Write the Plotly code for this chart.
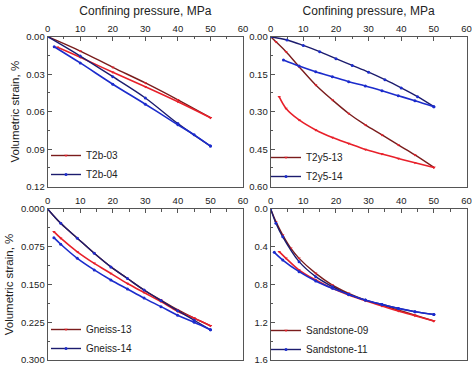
import plotly.graph_objects as go

# ---------------- data ----------------
# Panel A: T2b-03 (red), T2b-04 (blue)
t2b03_load_x = [0, 10, 20, 30, 40, 50]
t2b03_load_y = [0, 0.0115, 0.0245, 0.037, 0.0505, 0.0648]
t2b03_unl_x = [50, 40, 30, 20, 10, 3]
t2b03_unl_y = [0.0648, 0.052, 0.040, 0.0285, 0.0165, 0.0085]
t2b04_load_x = [0, 10, 20, 30, 40, 50]
t2b04_load_y = [0, 0.0155, 0.032, 0.049, 0.0695, 0.0875]
t2b04_unl_x = [50, 45, 40, 30, 20, 10, 2]
t2b04_unl_y = [0.0875, 0.0785, 0.0705, 0.054, 0.038, 0.021, 0.008]

# Panel B: T2y5-13 (red), T2y5-14 (blue)
t2y13_load_x = [0, 1.6, 4.7, 8.7, 13.8, 18.9, 23.9, 29, 34.1, 39.1, 44.2, 50]
t2y13_load_y = [0, 0.02, 0.06, 0.12, 0.193, 0.253, 0.307, 0.353, 0.393, 0.433, 0.473, 0.523]
t2y13_unl_x = [50, 44.2, 39.1, 34.1, 29, 23.9, 18.9, 13.8, 8.7, 4.7, 2.6]
t2y13_unl_y = [0.523, 0.504, 0.487, 0.469, 0.451, 0.427, 0.403, 0.373, 0.333, 0.287, 0.24]
t2y14_load_x = [0, 5, 10, 15, 20, 25, 30, 35, 40, 45, 50]
t2y14_load_y = [0, 0.013, 0.035, 0.06, 0.088, 0.115, 0.142, 0.172, 0.205, 0.24, 0.28]
t2y14_unl_x = [50, 44.2, 39.1, 34.1, 29, 23.9, 18.9, 13.8, 8.7, 3.9]
t2y14_unl_y = [0.28, 0.256, 0.236, 0.216, 0.197, 0.18, 0.16, 0.14, 0.117, 0.093]

# Panel C: Gneiss-13 (red), Gneiss-14 (blue)
gn_load_x = [0, 4, 9.1, 14.3, 19.4, 24.5, 29.6, 34.8, 39.9, 45, 50]
gn13_load_y = [0, 0.0285, 0.058, 0.088, 0.115, 0.138, 0.161, 0.181, 0.2, 0.217, 0.232]
gn14_load_y = [0, 0.0285, 0.058, 0.088, 0.115, 0.138, 0.161, 0.182, 0.202, 0.221, 0.24]
gn_unl_x = [50, 45, 39.9, 34.8, 29.6, 24.5, 19.4, 14.3, 9.1, 4, 1.9]
gn13_unl_y = [0.232, 0.217, 0.203, 0.184, 0.166, 0.148, 0.128, 0.108, 0.085, 0.058, 0.045]
gn14_unl_y = [0.24, 0.225, 0.211, 0.194, 0.177, 0.159, 0.141, 0.121, 0.098, 0.07, 0.057]

# Panel D: Sandstone-09 (red), Sandstone-11 (blue)
ss09_load_x = [0, 1.6, 3.7, 6.2, 8.7, 13.8, 18.9, 23.9, 29, 34.1, 39.1, 44.2, 50]
ss09_load_y = [0, 0.134, 0.276, 0.417, 0.523, 0.682, 0.806, 0.894, 0.965, 1.018, 1.071, 1.124, 1.187]
ss09_unl_x = [50, 44.2, 39.1, 34.1, 29, 23.9, 18.9, 13.8, 8.7, 4.7, 2.6]
ss09_unl_y = [1.187, 1.131, 1.081, 1.028, 0.972, 0.912, 0.841, 0.753, 0.647, 0.523, 0.452]
ss11_load_x = [0, 1.6, 3.7, 8.7, 13.8, 18.9, 23.9, 29, 34.1, 39.1, 44.2, 50]
ss11_load_y = [0, 0.15, 0.295, 0.558, 0.717, 0.823, 0.905, 0.965, 1.011, 1.053, 1.088, 1.117]
ss11_unl_x = [50, 44.2, 39.1, 34.1, 29, 23.9, 18.9, 13.8, 8.7, 3.7, 1.1]
ss11_unl_y = [1.117, 1.088, 1.053, 1.011, 0.965, 0.905, 0.841, 0.763, 0.664, 0.541, 0.459]

x_ticks = [0, 10, 20, 30, 40, 50, 60]
yA_ticks = [0.00, 0.03, 0.06, 0.09, 0.12]
yB_ticks = [0.00, 0.15, 0.30, 0.45, 0.60]
yC_ticks = [0.000, 0.075, 0.150, 0.225, 0.300]
yD_ticks = [0.0, 0.4, 0.8, 1.2, 1.6]

RED = "#e8202a"
RED_DARK = "#7a1c1c"
BLUE = "#1c2ccc"
BLUE_DARK = "#1c1c6e"

W, H = 474, 368
FONT = "Liberation Sans, Arial, sans-serif"

fig = go.Figure()


def add_pair(name, lx, ly, ux, uy, color, dark, symbol, xa, ya, legend):
    fig.add_trace(go.Scatter(
        x=lx, y=ly, name=name, mode="lines+markers",
        line=dict(color=dark, width=1.4, shape="spline", smoothing=1),
        marker=dict(color=color, size=3, symbol=symbol),
        xaxis=xa, yaxis=ya, legend=legend, legendgroup=name))
    fig.add_trace(go.Scatter(
        x=ux, y=uy, name=name, mode="lines+markers", showlegend=False,
        line=dict(color=color, width=1.6, shape="spline", smoothing=1),
        marker=dict(color=color, size=3, symbol=symbol),
        xaxis=xa, yaxis=ya, legend=legend, legendgroup=name))


add_pair("T2b-03", t2b03_load_x, t2b03_load_y, t2b03_unl_x, t2b03_unl_y, RED, RED_DARK, "triangle-down", "x", "y", "legend")
add_pair("T2b-04", t2b04_load_x, t2b04_load_y, t2b04_unl_x, t2b04_unl_y, BLUE, BLUE_DARK, "circle", "x", "y", "legend")
add_pair("T2y5-13", t2y13_load_x, t2y13_load_y, t2y13_unl_x, t2y13_unl_y, RED, RED_DARK, "triangle-down", "x2", "y2", "legend2")
add_pair("T2y5-14", t2y14_load_x, t2y14_load_y, t2y14_unl_x, t2y14_unl_y, BLUE, BLUE_DARK, "circle", "x2", "y2", "legend2")
add_pair("Gneiss-13", gn_load_x, gn13_load_y, gn_unl_x, gn13_unl_y, RED, RED_DARK, "triangle-down", "x3", "y3", "legend3")
add_pair("Gneiss-14", gn_load_x, gn14_load_y, gn_unl_x, gn14_unl_y, BLUE, BLUE_DARK, "circle", "x3", "y3", "legend3")
add_pair("Sandstone-09", ss09_load_x, ss09_load_y, ss09_unl_x, ss09_unl_y, RED, RED_DARK, "triangle-down", "x4", "y4", "legend4")
add_pair("Sandstone-11", ss11_load_x, ss11_load_y, ss11_unl_x, ss11_unl_y, BLUE, BLUE_DARK, "circle", "x4", "y4", "legend4")

LX = [47.7 / W, 243.0 / W]
RX = [270.7 / W, 466.5 / W]
TY = [1 - 186.7 / H, 1 - 36.7 / H]
BY = [1 - 360.0 / H, 1 - 209.0 / H]

common_x = dict(range=[0, 60], tickvals=x_ticks, side="top", ticks="inside", ticklen=4,
                minor=dict(dtick=5, ticks="inside", ticklen=2.5, tickcolor="#555"),
                showline=True, mirror=True, linecolor="#555", linewidth=1.2, tickcolor="#555",
                showgrid=False, zeroline=False, automargin=False,
                tickfont=dict(size=9.5, color="#222"))
common_y = dict(ticks="inside", ticklen=4, showline=True, mirror=True, linecolor="#555",
                linewidth=1.2, tickcolor="#555", showgrid=False, zeroline=False, automargin=False,
                tickfont=dict(size=9.5, color="#222"))

xtitle = dict(text="Confining pressure, MPa", font=dict(size=12, color="#222"), standoff=4)
ytitle = dict(text="Volumetric strain, %", font=dict(size=11.5, color="#222"), standoff=4)

fig.update_layout(
    width=W, height=H, margin=dict(l=0, r=0, t=0, b=0),
    paper_bgcolor="white", plot_bgcolor="white",
    font=dict(family=FONT, color="#222"),
    xaxis=dict(domain=LX, anchor="y", title=xtitle, **common_x),
    yaxis=dict(domain=TY, anchor="x", range=[0.12, 0], tickvals=yA_ticks, tickformat=".2f",
               minor=dict(dtick=0.015, ticks="inside", ticklen=2.5, tickcolor="#555"),
               title=ytitle, **common_y),
    xaxis2=dict(domain=RX, anchor="y2", title=xtitle, **common_x),
    yaxis2=dict(domain=TY, anchor="x2", range=[0.6, 0], tickvals=yB_ticks, tickformat=".2f",
                minor=dict(dtick=0.075, ticks="inside", ticklen=2.5, tickcolor="#555"), **common_y),
    xaxis3=dict(domain=LX, anchor="y3", **common_x),
    yaxis3=dict(domain=BY, anchor="x3", range=[0.3, 0], tickvals=yC_ticks, tickformat=".3f",
                minor=dict(dtick=0.0375, ticks="inside", ticklen=2.5, tickcolor="#555"),
                title=ytitle, **common_y),
    xaxis4=dict(domain=RX, anchor="y4", **common_x),
    yaxis4=dict(domain=BY, anchor="x4", range=[1.6, 0], tickvals=yD_ticks, tickformat=".1f",
                minor=dict(dtick=0.2, ticks="inside", ticklen=2.5, tickcolor="#555"), **common_y),
)

leg_common = dict(bgcolor="rgba(0,0,0,0)", font=dict(size=10, color="#222"),
                  xanchor="left", yanchor="top", tracegroupgap=0, itemwidth=30)
fig.update_layout(
    legend=dict(x=46 / W, y=1 - 141 / H, **leg_common),
    legend2=dict(x=266 / W, y=1 - 143 / H, **leg_common),
    legend3=dict(x=46 / W, y=1 - 315 / H, **leg_common),
    legend4=dict(x=266 / W, y=1 - 316 / H, **leg_common),
)

fig.write_html("out.html", config={"displayModeBar": False},
               post_script="document.body.style.margin='0';")
